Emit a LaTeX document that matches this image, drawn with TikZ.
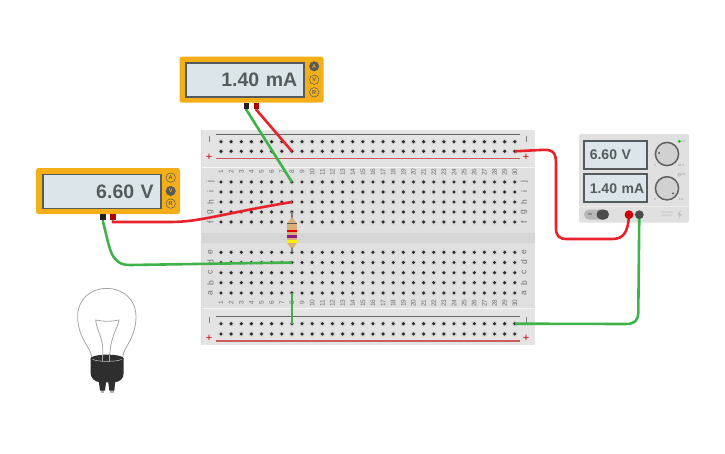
\documentclass[tikz,border=0pt]{standalone}
\usepackage{fontspec}
\setmainfont{Liberation Sans}
\definecolor{meterorange}{HTML}{F4AE17}
\definecolor{screenblue}{HTML}{DCE6EA}
\definecolor{screenedge}{HTML}{555B5C}
\definecolor{railgray}{HTML}{E4E4E4}
\definecolor{maingray}{HTML}{E0E0E0}
\definecolor{gaugray}{HTML}{D6D6D6}
\definecolor{wirered}{HTML}{E8222A}
\definecolor{wiregreen}{HTML}{3FB34A}
\definecolor{printgray}{HTML}{6E6E6E}
\definecolor{railred}{HTML}{C95C5C}
\definecolor{bodytan}{HTML}{D8B078}
\definecolor{bandpurple}{HTML}{8E1A8E}
\tikzset{
    wirered/.style={draw=wirered, line width=2.6pt},
    wiregreen/.style={draw=wiregreen, line width=2.6pt},
    boardlabel/.style={text=printgray, font=\fontsize{6.5}{6.5}\selectfont, inner sep=0pt, rotate=90},
    railsign/.style={font=\fontsize{11}{11}\selectfont, inner sep=0pt},
    meterscreen/.style={draw=screenedge, line width=1.6pt, fill=screenblue, text=screenedge, inner ysep=0pt, inner xsep=7pt, align=right, text width=104pt, minimum height=34pt, font=\fontsize{19.5}{20}\selectfont\bfseries},
    psuscreen/.style={draw=screenedge, line width=1.8pt, fill=screenblue, text=screenedge, inner ysep=0pt, inner xsep=5.5pt, align=left, text width=52pt, minimum height=28pt, font=\fontsize{14}{14}\selectfont\bfseries},
    tinylabel/.style={text=black!45, font=\fontsize{3}{3}\selectfont, inner sep=0pt},
}
\newcommand{\drawmeter}[4]{
    \begin{scope}[shift={(#2)}]
        \fill [meterorange, rounded corners=2.5pt] (0,0) rectangle ++(144,46);
        \node [meterscreen] (#1) at (65.7,23.5) {#3};
        \def\activebtn{#4}
        \foreach \btn/\yy in {A/9.6,V/23,R/35.6} {
            \ifx\btn\activebtn
                \node [circle, fill=screenedge, draw=screenedge, text=meterorange, minimum size=9.5pt, inner sep=0pt, font=\fontsize{5.5}{5.5}\selectfont\bfseries] (#1-\btn) at (134.7,\yy) {\btn};
            \else
                \node [circle, draw=screenedge, line width=0.5pt, text=screenedge, minimum size=9.5pt, inner sep=0pt, font=\fontsize{5.5}{5.5}\selectfont\bfseries] (#1-\btn) at (134.7,\yy) {\btn};
            \fi
        }
        \fill [black!75!gray] (64,46) rectangle ++(5.6,6);
        \fill [gray] (65.5,52) rectangle ++(2.6,2.5);
        \fill [red!70!black] (74,46) rectangle ++(5.6,6);
        \fill [gray] (75.5,52) rectangle ++(2.6,2.5);
        \coordinate (#1-black) at (66.8,53);
        \coordinate (#1-red) at (76.8,53);
    \end{scope}
}
\newcommand{\drawboard}{
    \fill [maingray] (201,130) rectangle (535,345);
    \fill [railgray] (201,130) rectangle (535,166);
    \fill [railgray] (201,309) rectangle (535,345);
    \fill [gaugray] (201,233) rectangle (535,243);
    \draw [white!70!maingray, line width=0.6pt] (201,167) -- (535,167);
    \draw [white!70!maingray, line width=0.6pt] (201,308) -- (535,308);
    \draw [white!85!black, line width=0.8pt] (201.4,130) -- (201.4,345);
    % rails
    \foreach \yy in {134.5,316.7} \draw [black!60, line width=1.3pt] (216,\yy) -- (520,\yy);
    \foreach \yy in {158.7,341} \draw [railred, line width=1.3pt] (216,\yy) -- (520,\yy);
    \foreach \xx in {209,526} {
        \foreach \yy in {138.5,319.5} \fill [black!50] (\xx-0.5,\yy-3) rectangle ++(1,6);
        \foreach \yy in {157.5,338} \node [railsign, text=red!80!black] at (\xx,\yy) {+};
    }
    % holes
    \foreach \col in {1,...,30} {
        \pgfmathsetmacro{\xx}{221+(\col-1)*10.13}
        \foreach \row/\yy in {tm/141.7,tp/151.3,j/182,i/192,h/202,g/212,f/222,e/252.3,d/262.5,c/272.7,b/282.7,a/293,bm/323.7,bp/334} {
            \fill [black!16] (\xx,\yy) circle (2.9pt);
            \fill [black!85] (\xx,\yy) circle (1.7pt);
            \coordinate (\row\col) at (\xx,\yy);
        }
        \node [boardlabel] at (\xx,172) {\col};
        \node [boardlabel] at (\xx,303) {\col};
    }
    \foreach \xx in {210.5,524} {
        \foreach \row/\yy in {j/182,i/192,h/202,g/212,f/222,e/252.3,d/262.5,c/272.7,b/282.7,a/293} \node [boardlabel, font=\fontsize{8.5}{8.5}\selectfont] at (\xx,\yy) {\row};
    }
}
\newcommand{\drawresistor}[1]{
    \begin{scope}[shift={(#1)}]
        \draw [black!50, line width=1.2pt] (0,-40) -- (0,0);
        \fill [bodytan] (0,-34.5) -- (4.8,-29) -- (4.8,-9) -- (2,-4.5) -- (-2,-4.5) -- (-4.8,-9) -- (-4.8,-29) -- cycle;
        \fill [screenedge] (-4.8,-29) rectangle (4.8,-28.4);
        \fill [red!90!black] (-4.8,-22.5) rectangle (4.8,-20);
        \fill [bandpurple] (-4.8,-17.5) rectangle (4.8,-14.5);
        \fill [yellow] (-4.8,-12.5) rectangle (4.8,-9);
    \end{scope}
}
\newcommand{\drawsupply}[1]{
    \begin{scope}[shift={(#1)}]
        \fill [black!12, rounded corners=1.5pt] (0,0) rectangle (110,88.7);
        \draw [white!92!black, line width=0.6pt] (0,72) -- (110,72);
        \node [psuscreen] (volts) at (36.8,20.7) {\mbox{6.60 V}};
        \node [psuscreen] (amps) at (36.8,54.2) {\mbox{1.40 mA}};
        \foreach \yy/\dotx/\doty in {20/-8/-1,54.3/6/5} {
            \fill [white!82!black] (88,\yy) circle (12pt);
            \draw [black!62, line width=1.5pt] (88,\yy) circle (11.6pt);
            \fill [black!70] (88+\dotx,\yy+\doty) circle (1pt);
        }
        \fill [green!80!black] (100.3,7.3) circle (1.6pt);
        \draw [black!35, line width=0.4pt] (100.3,40.7) circle (1.6pt);
        \node [tinylabel] at (104.5,7.3) {CV};
        \node [tinylabel] at (104.5,40.7) {CC};
        \node [tinylabel] at (76,31.5) {0};
        \node [tinylabel] at (102,31.5) {30 V};
        \node [tinylabel] at (76,65.5) {0};
        \node [tinylabel] at (102,65.5) {5 A};
        \fill [black!28, rounded corners=5pt] (5,75.5) rectangle ++(25,10);
        \node [tinylabel, text=black!70] at (11,80.5) {ON};
        \fill [black!70, rounded corners=5pt] (17.5,75.5) rectangle ++(12.5,10);
        \node [align=center, tinylabel, text=black!30, font=\fontsize{2.6}{3}\selectfont] at (88,80.5) {VOLTAGE\\SUPPLY};
        \fill [black!25] (101.5,76) -- (98.5,81) -- (100.5,81) -- (99,85.5) -- (103,80) -- (101,80) -- cycle;
        \coordinate (psu-red) at (50,80.7);
        \coordinate (psu-black) at (60.3,80.7);
    \end{scope}
}
\newcommand{\drawbulb}[1]{
    \begin{scope}[shift={(#1)}, scale=0.3333]
        \draw [black!35, line width=0.8pt] (95,232) .. controls (95,205) and (53,175) .. (53,110) .. controls (53,55) and (95,25) .. (140,25) .. controls (185,25) and (228,55) .. (228,110) .. controls (228,175) and (188,205) .. (188,232);
        \draw [black!35, line width=0.8pt] (128,245) -- (128,200) .. controls (126,170) and (110,150) .. (107,120) .. controls (130,125) and (155,125) .. (177,120) .. controls (172,150) and (150,165) .. (148,245);
        \fill [black!30] (122,330) rectangle (133,340);
        \fill [black!30] (150,330) rectangle (161,340);
        \fill [black!82] (116,300) -- (120,332) -- (135,332) -- (139,300) -- cycle;
        \fill [black!82] (144,300) -- (148,332) -- (163,332) -- (166,300) -- cycle;
        \fill [black!82] (92,235) -- (92,280) .. controls (92,295) and (105,305) .. (120,307) -- (165,307) .. controls (180,305) and (191,295) .. (191,280) -- (191,235) -- cycle;
        \fill [black!82] (141.5,235) ellipse (49.5 and 11);
        \draw [black!20, line width=0.5pt] (98,238) .. controls (110,246) and (172,246) .. (185,238);
        \draw [black!35, line width=0.8pt] (128,226) -- (128,246) (148,226) -- (148,246);
    \end{scope}
}

\begin{document}
\begin{tikzpicture}[x=1pt, y=-1pt]
    \useasboundingbox (0,0) rectangle (725,453);
    \drawboard
    \drawresistor{292,252}
    \drawbulb{60,280}
    \drawmeter{ammeter}{179.5,56.7}{1.40 mA}{A}
    \drawmeter{voltmeter}{36,168}{6.60 V}{V}
    \drawsupply{579,134}
    % ammeter leads
    \draw [wirered] (ammeter-red) -- (tp8);
    \draw [wiregreen] (ammeter-black) -- (j8);
    % voltmeter leads
    \draw [wirered] (voltmeter-red) -- (113,222) -- (170,222) .. controls (200,222) and (220,214) .. (h8);
    \draw [wiregreen] (voltmeter-black) .. controls (110,248) and (110,265) .. (130,265) -- (d8);
    % jumper
    \draw [wiregreen] (a8) -- (bm8);
    % supply leads
    \draw [wirered] (tp30) -- (540,150) .. controls (553,149) and (556,152) .. (556,164) -- (556,228) .. controls (556,236) and (559,239) .. (567,239) -- (612,239) .. controls (624,239) and (628,232) .. (psu-red);
    \draw [wiregreen] (bm30) -- (626,324) .. controls (635,324) and (638.3,320) .. (638.3,312) -- (psu-black);
    \fill [red!80!black] (psu-red) circle (4.4pt);
    \fill [black!70] (psu-black) circle (4.4pt);
\end{tikzpicture}
\end{document}
